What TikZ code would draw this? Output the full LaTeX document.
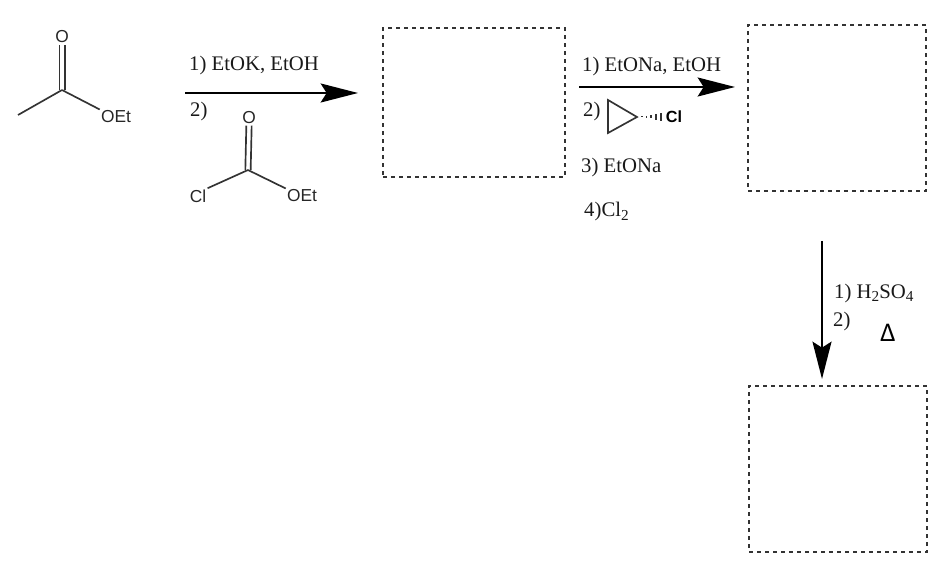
\documentclass[tikz,border=0pt]{standalone}
\usepackage{fontspec}
\setmainfont{Liberation Serif}
\newfontfamily\arialfont{Liberation Sans}
\newfontfamily\deltafont{Carlito}
\usepackage{tikz}
\usetikzlibrary{arrows.meta}
\def\low(#1){\raisebox{-3pt}{\fontsize{13}{13}\selectfont #1}}
\tikzstyle{reagent} = [anchor=base west, inner sep=0pt, font=\fontsize{17.7}{20}\selectfont, black!90]
\tikzstyle{atom} = [inner sep=1pt, font=\arialfont\fontsize{14.8}{16}\selectfont, black!85]
\tikzstyle{bond} = [line width=0.05cm, black!80]
\tikzstyle{rxn} = [line width=0.06cm,-{Stealth[length=1.12cm,width=0.57cm,inset=0.18cm]}]
\tikzstyle{answer} = [draw=black!80, line width=0.05cm, dash pattern=on 0.13cm off 0.11cm, inner sep=0pt]

\begin{document}
\begin{tikzpicture}[x=0.03cm,y=-0.03cm]
      \useasboundingbox (0,0) rectangle (942,564);
      % ethyl acetate
      \coordinate (me1) at (18,115);
      \coordinate (c1) at (62,90);
      \node[atom] (o1) at (62,37) {O};
      \node[atom] (oet1) at (116,117) {OEt};
      \draw[bond] (me1)--(c1);
      \draw[bond] (c1)--(oet1.north west);
      \draw[bond] ([xshift=-0.08cm]c1)--([xshift=-0.08cm]o1.south);
      \draw[bond] ([xshift=0.08cm]c1)--([xshift=0.08cm]o1.south);
      % first arrow
      \coordinate (a1) at (185,93);
      \coordinate (a2) at (358,93);
      \draw[rxn] (a1)--(a2);
      \node[reagent] (r1) at (189,71) {1) EtOK, EtOH};
      \node[reagent] (r2) at (190,117) {2)};
      % ethyl chloroformate
      \coordinate (c2) at (248,170);
      \node[atom] (o2) at (249,118) {O};
      \node[atom] (cl2) at (198,196) {Cl};
      \node[atom] (oet2) at (302,196) {OEt};
      \draw[bond] (c2)--(cl2.north east);
      \draw[bond] (c2)--(oet2.north west);
      \draw[bond] ([xshift=-0.08cm]c2)--([xshift=-0.08cm]o2.south);
      \draw[bond] ([xshift=0.08cm]c2)--([xshift=0.08cm]o2.south);
      % second arrow
      \coordinate (b1) at (579,87);
      \coordinate (b2) at (735,87);
      \draw[rxn] (b1)--(b2);
      \node[reagent] (s1) at (582,72) {1) EtONa, EtOH};
      \node[reagent] (s2) at (583,117) {2)};
      \node[reagent] (s3) at (581,173) {3) EtONa};
      \node[reagent] (s4) at (584,217) {4)Cl\low(2)};
      % cyclopropyl chloride
      \coordinate (t1) at (608,100);
      \coordinate (t2) at (608,133);
      \coordinate (t3) at (637,117);
      \draw[bond] (t1)--(t2)--(t3)--cycle;
      \node[inner sep=0pt, font=\arialfont\bfseries\fontsize{13.8}{14}\selectfont] (cl3) at (674,117) {Cl};
      \draw[bond] (642,116.5)--(642,117.5);
      \draw[bond] (646.5,116)--(646.5,118);
      \draw[bond] (651,115.5)--(651,118.5);
      \draw[bond] (656,114)--(656,120);
      \draw[bond] (661,113)--(661,121);
      % third arrow
      \coordinate (d1) at (822,241);
      \coordinate (d2) at (822,379);
      \draw[rxn] (d1)--(d2);
      \node[reagent] (u1) at (834,298) {1) H\low(2)SO\low(4)};
      \node[reagent] (u2) at (833,326) {2)};
      \node[inner sep=0pt, font=\deltafont\fontsize{23}{24}\selectfont] (u3) at (888,333) {Δ};
      % empty boxes
      \node[answer, minimum width=5.46cm, minimum height=4.47cm] (box1) at (474,102.5) {};
      \node[answer, minimum width=5.34cm, minimum height=4.98cm] (box2) at (837,108) {};
      \node[answer, minimum width=5.34cm, minimum height=4.98cm] (box3) at (838,469) {};
\end{tikzpicture}
\end{document}
